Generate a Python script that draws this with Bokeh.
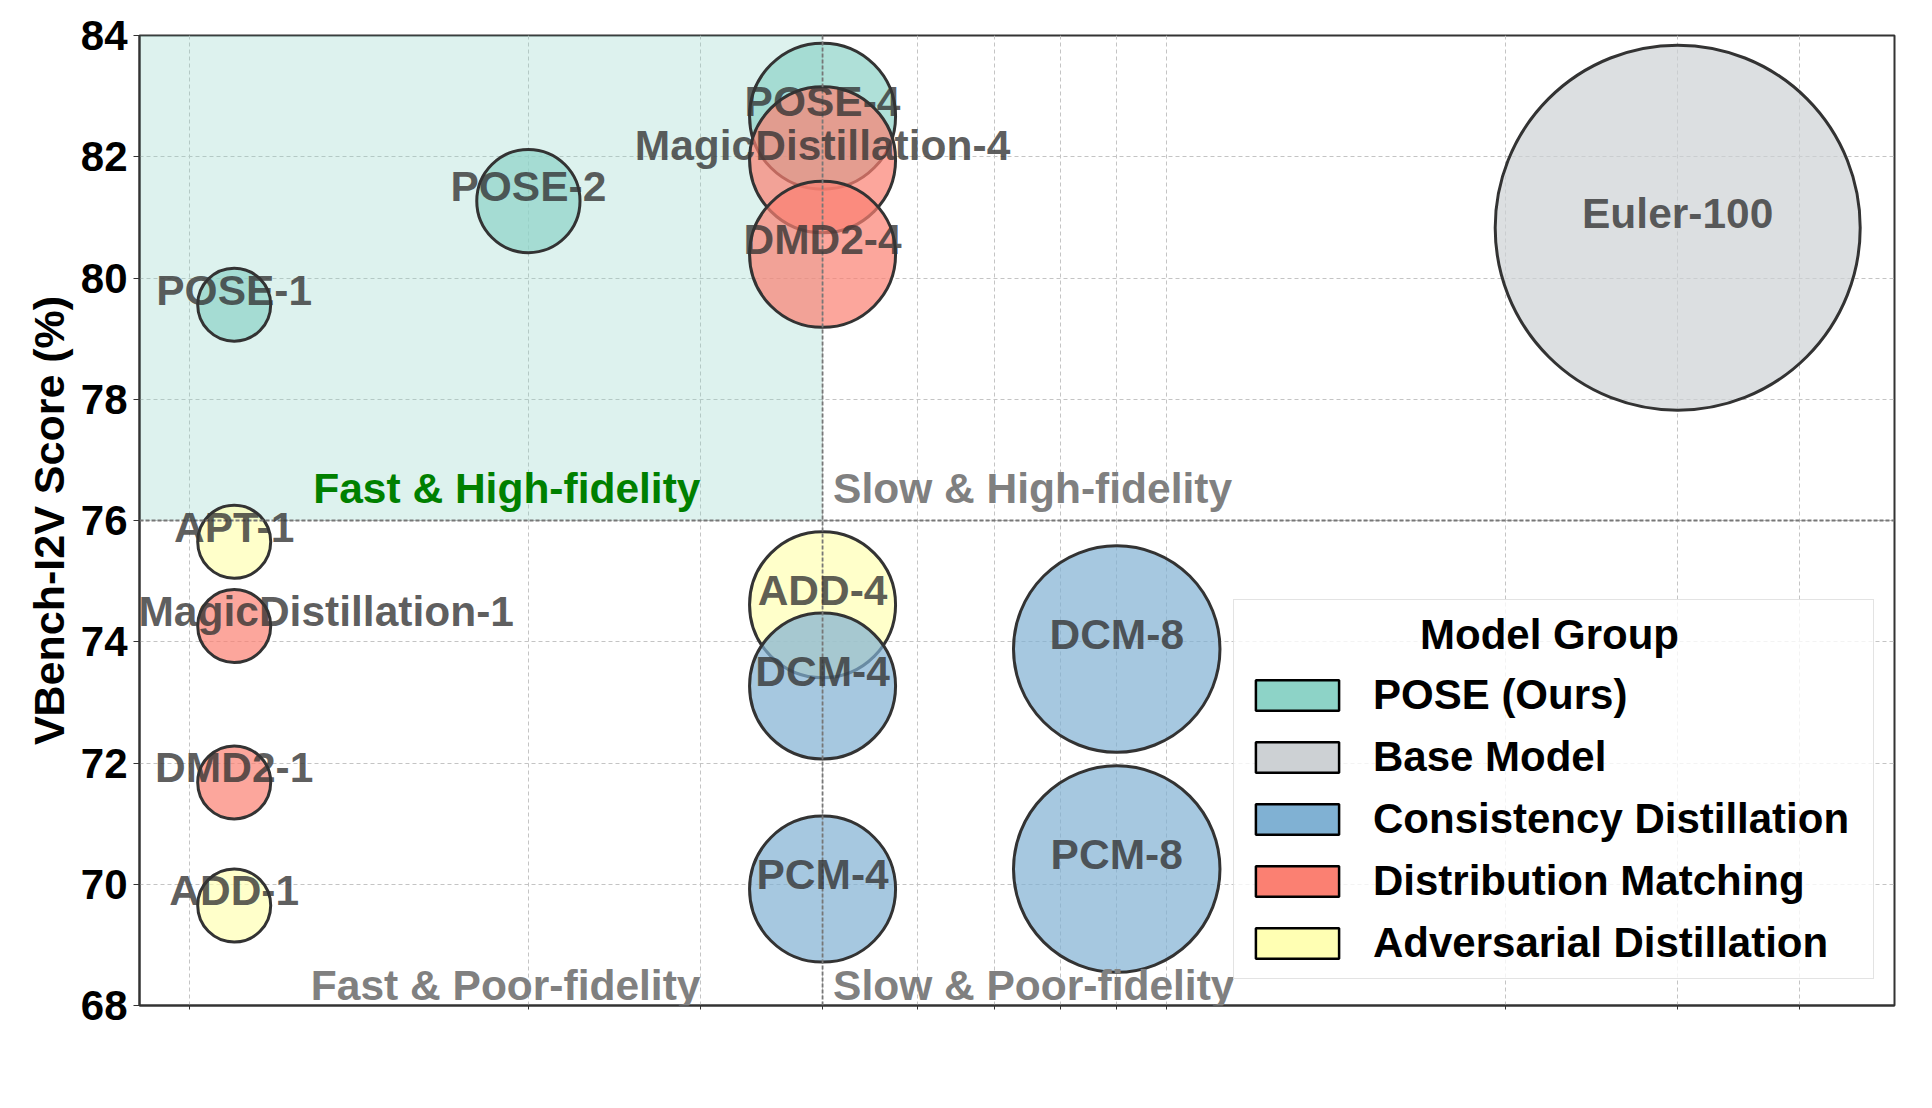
import math
from bokeh.plotting import figure
from bokeh.models import (Range1d, FixedTicker, Span, BoxAnnotation, Label, LabelSet,
                          ColumnDataSource, Legend, LegendItem, CustomJSTickFormatter)
from bokeh.core.properties import value
from bokeh.embed import file_html
from bokeh.resources import INLINE

# ---------------- data ----------------
models = ["POSE-1", "POSE-2", "POSE-4", "Euler-100",
          "ADD-1", "APT-1", "ADD-4",
          "DCM-4", "PCM-4", "DCM-8", "PCM-8",
          "MagicDistillation-1", "DMD2-1", "MagicDistillation-4", "DMD2-4"]
groups = ["POSE (Ours)", "POSE (Ours)", "POSE (Ours)", "Base Model",
          "Adversarial Distillation", "Adversarial Distillation", "Adversarial Distillation",
          "Consistency Distillation", "Consistency Distillation",
          "Consistency Distillation", "Consistency Distillation",
          "Distribution Matching", "Distribution Matching",
          "Distribution Matching", "Distribution Matching"]
nfe = [1, 2, 4, 100,
       1, 1, 4,
       4, 4, 8, 8,
       1, 1, 4, 4]
scores = [79.56, 81.27, 82.67, 80.83,
          69.65, 75.65, 74.61,
          73.27, 69.92, 73.88, 70.25,
          74.26, 71.68, 81.95, 80.39]

group_order = ["POSE (Ours)", "Base Model", "Consistency Distillation",
               "Distribution Matching", "Adversarial Distillation"]
y_ticks = [68, 70, 72, 74, 76, 78, 80, 82, 84]
x_ticks = [0.9, 2, 3, 4, 5, 6, 7, 8, 9, 20, 30, 40]

fast_nfe_max = 4          # quadrant split (steps)
high_fid_min = 76         # quadrant split (score)

# ---------------- styles ----------------
colors = {"POSE (Ours)": "#8dd3c7", "Base Model": "#cdd1d4",
          "Consistency Distillation": "#80b1d3", "Distribution Matching": "#fb8072",
          "Adversarial Distillation": "#ffffb3"}
display_x = {100: 30}     # base model drawn at compressed position
FONT = "Liberation Sans"
FS = "42.5px"

xs = [display_x.get(n, n) for n in nfe]
sizes = [73 * math.sqrt(min(n, 25)) for n in nfe]
label_dx = [92 if m == "MagicDistillation-1" else 0 for m in models]

src = ColumnDataSource(dict(x=xs, y=scores, size=sizes, label=models, dx=label_dx,
                            color=[colors[g] for g in groups]))

p = figure(width=1932, height=1108, x_axis_type="log",
           x_range=Range1d(0.8, 50), y_range=Range1d(68, 84),
           output_backend="svg", toolbar_location=None,
           min_border_left=139, min_border_right=38, min_border_top=35, min_border_bottom=103)
p.background_fill_color = "white"
p.outline_line_color = "#333333"
p.outline_line_width = 2

xt = FixedTicker(ticks=x_ticks, minor_ticks=[])
yt = FixedTicker(ticks=y_ticks, minor_ticks=[])
p.xaxis.ticker = xt
p.yaxis.ticker = yt
p.xgrid.ticker = xt
p.ygrid.ticker = yt
for g in (p.xgrid, p.ygrid):
    g.grid_line_color = "#c4c4c4"
    g.grid_line_dash = "4 3"
    g.grid_line_width = 1

p.xaxis.formatter = CustomJSTickFormatter(code="return ''")
p.xaxis.major_tick_out = 4
p.xaxis.major_tick_in = 0
p.xaxis.minor_tick_out = 0
p.xaxis.minor_tick_in = 0
p.xaxis.axis_line_color = "#333333"
p.xaxis.axis_line_width = 2
p.xaxis.major_tick_line_color = "#333333"

p.yaxis.major_tick_out = 6
p.yaxis.major_tick_in = 0
p.yaxis.minor_tick_out = 0
p.yaxis.minor_tick_in = 0
p.yaxis.axis_line_color = "#333333"
p.yaxis.axis_line_width = 2
p.yaxis.major_tick_line_color = "#333333"
p.yaxis.major_label_standoff = 6
p.yaxis.major_label_text_font = FONT
p.yaxis.major_label_text_font_size = "42px"
p.yaxis.major_label_text_font_style = "bold"
p.yaxis.major_label_text_color = "black"
p.yaxis.axis_label = "VBench-I2V Score (%)"
p.yaxis.axis_label_text_font = FONT
p.yaxis.axis_label_text_font_size = "43px"
p.yaxis.axis_label_text_font_style = "bold"
p.yaxis.axis_label_text_color = "black"
p.yaxis.axis_label_standoff = 5

# quadrant shading
p.add_layout(BoxAnnotation(right=fast_nfe_max, bottom=high_fid_min, fill_color="#8dd3c7",
                           fill_alpha=0.3, line_color=None, level="underlay"))

# bubbles
p.scatter("x", "y", size="size", source=src, fill_color="color", fill_alpha=0.7,
          line_color="#333333", line_width=3)

# quadrant divider lines
p.add_layout(Span(location=high_fid_min, dimension="width", line_color="#777777",
                  line_dash="4 2", line_width=2))
p.add_layout(Span(location=fast_nfe_max, dimension="height", line_color="#777777",
                  line_dash="4 2", line_width=1.8))

# quadrant labels
def qlabel(x, y, text, color, align, dy):
    p.add_layout(Label(x=x, y=y, text=text, text_color=color, text_align=align,
                       text_baseline="bottom", y_offset=dy, text_font=FONT,
                       text_font_size=FS, text_font_style="bold"))

qlabel(3, high_fid_min, "Fast & High-fidelity", "#008000", "right", 9)
qlabel(4.1, high_fid_min, "Slow & High-fidelity", "#808080", "left", 9)
qlabel(3, 68, "Fast & Poor-fidelity", "#808080", "right", -3)
qlabel(4.1, 68, "Slow & Poor-fidelity", "#808080", "left", -3)

# bubble labels
p.add_layout(LabelSet(x="x", y="y", text="label", source=src, x_offset="dx", y_offset=14.5,
                      text_align="center", text_baseline="middle", text_font=value(FONT),
                      text_font_size=value(FS), text_font_style="bold", text_color="#333333",
                      text_alpha=0.78))

# legend (swatch-only renderers: one undrawable NaN row each)
items = []
nan = float("nan")
for g in group_order:
    r = p.quad(left=[nan], right=[nan], top=[nan], bottom=[nan], fill_color=colors[g],
               line_color="black", line_width=2.5)
    items.append(LegendItem(label=g, renderers=[r]))
legend = Legend(items=items, location=(1094, 26), title="\u00a0" * 15 + "Model Group",
                glyph_width=104, glyph_height=38, label_standoff=24, padding=11,
                label_width=489, spacing=14, margin=0, border_line_color="#c8c8c8",
                border_line_width=1.5,
                background_fill_color="white", background_fill_alpha=0.8,
                label_text_font=FONT, label_text_font_size="42px", label_text_font_style="bold",
                label_text_color="black", title_text_font=FONT, title_text_font_size="42px",
                title_text_font_style="bold", title_text_color="black", title_standoff=12)
p.add_layout(legend)

open("out.html", "w").write(file_html(p, INLINE))
